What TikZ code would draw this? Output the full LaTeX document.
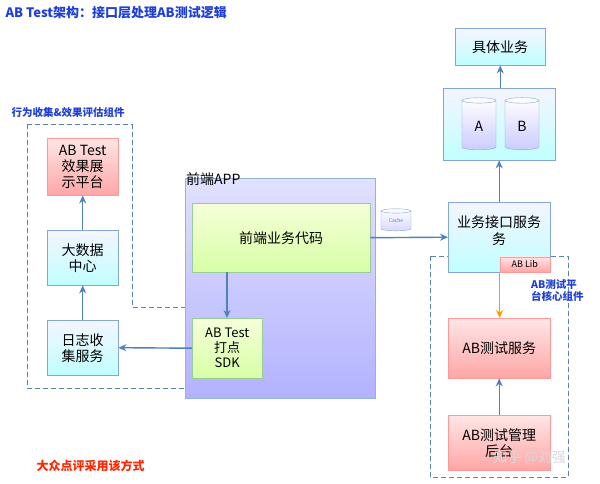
\documentclass[tikz,border=0pt]{standalone}
\usepackage{fontspec}
\setmainfont{Noto Sans CJK SC}
\usetikzlibrary{shapes.geometric,arrows.meta}
\definecolor{bl}{HTML}{4F81BD}
\definecolor{tb}{HTML}{1F3FD6}
\tikzset{
 bluebox/.style={draw=bl!70,top color=blue!4,bottom color=cyan!25,align=center,font=\fontsize{14}{16}\selectfont,inner sep=0pt},
 redbox/.style={draw=red!40,top color=red!10,bottom color=red!35,align=center,font=\fontsize{14}{16}\selectfont,inner sep=0pt},
 greenbox/.style={draw=green!50!black!40,top color=green!25!yellow!15,bottom color=green!45!yellow!35,align=center,font=\fontsize{14}{16}\selectfont,inner sep=0pt},
 arr/.style={-{Stealth[length=8pt,width=7pt]},draw=bl,line width=1.4pt},
 dash box/.style={draw=bl!80!gray,line width=1pt,dash pattern=on 5pt off 3pt},
 cyl/.style={cylinder,shape border rotate=90,aspect=0.35,draw=bl!70,top color=white,bottom color=blue!20,minimum width=34pt,minimum height=52pt},
 lbl/.style={text=tb,font=\bfseries\fontsize{10.5}{12}\selectfont,align=left}
}
\begin{document}
\begin{tikzpicture}[x=1pt,y=-1pt]
\useasboundingbox[fill=white] (0,0) rectangle (600,484);
\node[anchor=west,text=tb,font=\bfseries\fontsize{13}{15}\selectfont] (title) at (2,13) {AB Test架构：接口层处理AB测试逻辑};
% dashed groups
\draw[dash box] (27,125) -- (132,125) -- (132,307) -- (270,307) -- (270,388) -- (27,388) -- cycle;
\draw[dash box] (430,256) rectangle (568,477);
\node[lbl,anchor=west] (lg) at (8,113) {行为收集\&效果评估组件};
\node[lbl,anchor=north west,inner sep=0pt] (rg) at (531,279) {AB测试平\\台核心组件};
% frontend app
\node[draw=bl!60,top color=blue!12,bottom color=blue!30,minimum width=190pt,minimum height=220pt,anchor=north west,inner sep=0pt] (app) at (185,178) {};
\node[anchor=south west,font=\fontsize{14}{16}\selectfont,inner sep=0pt] (applbl) at (186,186) {前端APP};
\node[greenbox,minimum width=178pt,minimum height=69pt,anchor=north west] (code) at (192,203) {前端业务代码};
\node[greenbox,minimum width=70pt,minimum height=60pt,anchor=north west,font=\fontsize{13}{15}\selectfont] (sdk) at (192,318) {AB Test\\打点\\SDK};
% left column
\node[redbox,minimum width=71pt,minimum height=57pt,anchor=north west] (show) at (47,138) {AB Test\\效果展\\示平台};
\node[bluebox,minimum width=71pt,minimum height=55pt,anchor=north west] (bigdata) at (47,230) {大数据\\中心};
\node[bluebox,minimum width=71pt,minimum height=55pt,anchor=north west] (log) at (47,320) {日志收\\集服务};
% right column
\node[bluebox,minimum width=90pt,minimum height=37pt,anchor=north west] (biz) at (455,28) {具体业务};
\node[bluebox,minimum width=112pt,minimum height=72pt,anchor=north west] (ab) at (443,88) {};
\node[cyl] (ca) at (479,126) {\fontsize{14}{16}\selectfont A};
\node[cyl] (cb) at (522,126) {\fontsize{14}{16}\selectfont B};
\node[bluebox,minimum width=102pt,minimum height=70pt,anchor=north west] (api) at (448,202) {};
\node[font=\fontsize{14}{17}\selectfont,align=center] (apit) at (499,231) {业务接口服务\\务};
\node[redbox,minimum width=50pt,minimum height=15pt,anchor=south east,font=\fontsize{9}{10}\selectfont] (lib) at (550,272) {AB Lib};
\node[redbox,minimum width=102pt,minimum height=60pt,anchor=north west] (svc) at (448,318) {AB测试服务};
\node[redbox,minimum width=102pt,minimum height=55pt,anchor=north west] (mgr) at (448,415) {AB测试管理\\后台};
\node[cylinder,shape border rotate=90,aspect=0.3,draw=bl!70,top color=white,bottom color=blue!15,minimum width=30pt,minimum height=22pt,font=\fontsize{5}{6}\selectfont,text=bl,inner sep=0pt] (cache) at (396,221) {Cache};
% arrows
\draw[arr] (227,272) -- (227,318);
\draw[arr] (sdk.west) -- (log.east);
\draw[arr] (log.north) -- (bigdata.south);
\draw[arr] (bigdata.north) -- (show.south);
\draw[arr] (code.east) -- (api.west);
\draw[arr] (api.north) -- (ab.south);
\draw[arr] (ab.north -| biz.south) -- (biz.south);
\draw[arr,draw=orange!80!yellow] (lib.south west) -- (svc.north -| lib.south west);
\draw[arr] (mgr.north) -- (svc.south);
\node[anchor=west,text=red!70!orange,font=\bfseries\fontsize{12}{14}\selectfont] (note) at (33,466) {大众点评采用该方式};
\node[anchor=west,text=gray!30,font=\fontsize{14}{16}\selectfont] (wm) at (490,458) {知乎 @刘强};
\end{tikzpicture}
\end{document}
